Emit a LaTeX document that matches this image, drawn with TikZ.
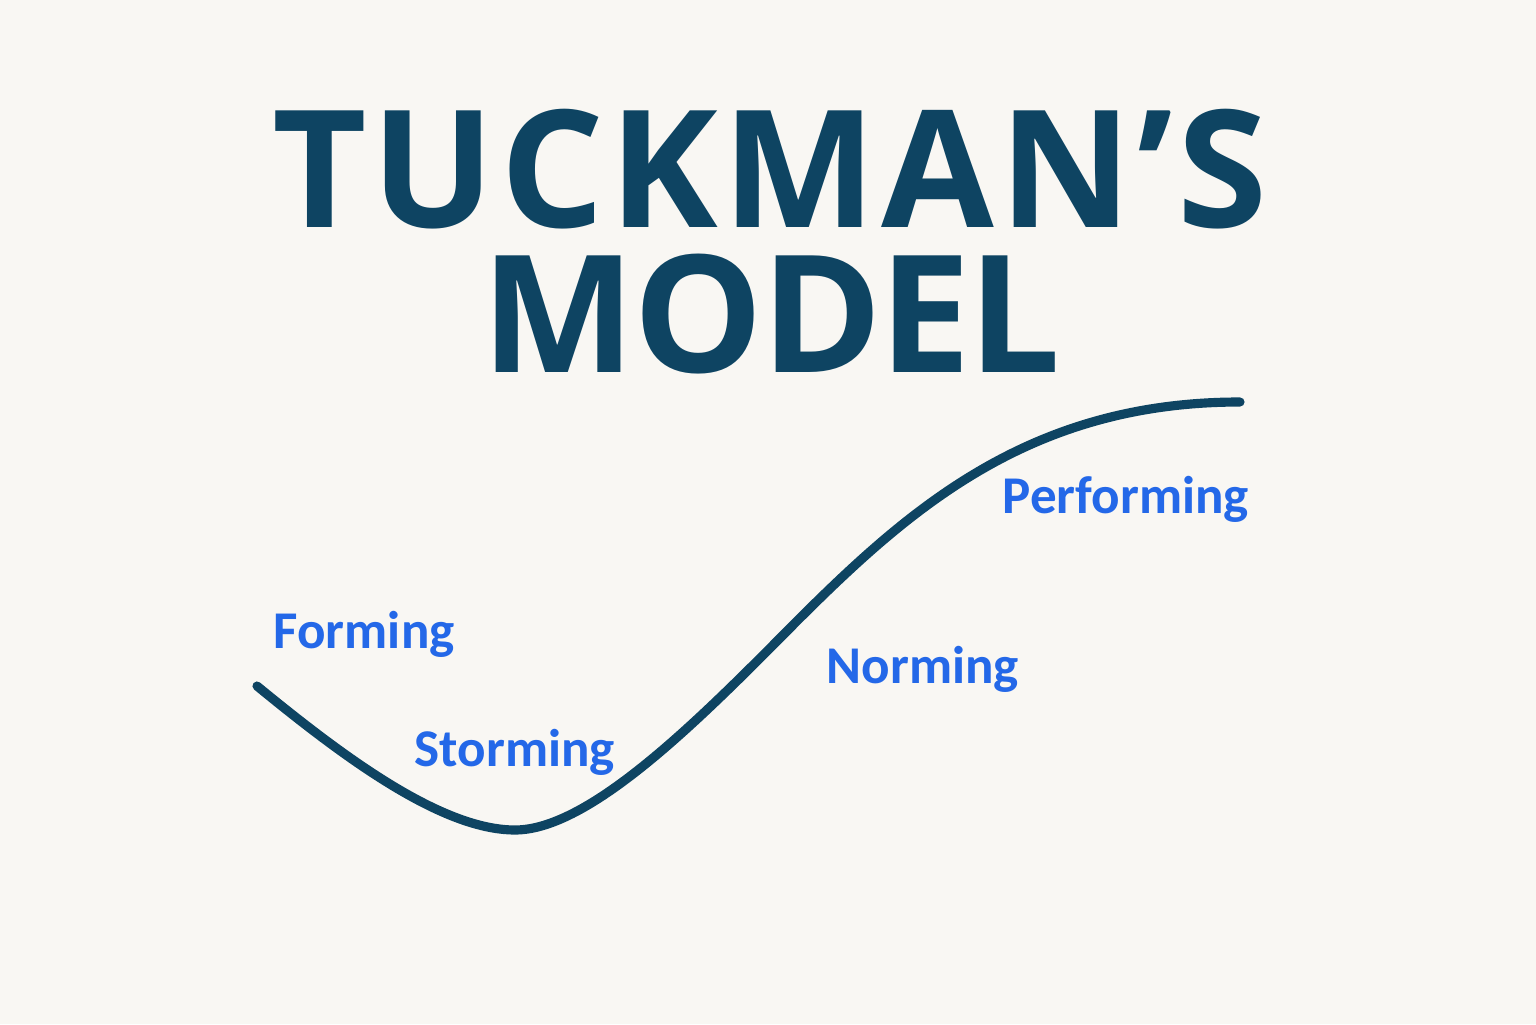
\documentclass[tikz,border=0pt]{standalone}
\usepackage{fontspec}
\setmainfont{Carlito}
\newfontfamily\titlefont[LetterSpace=3]{Open Sans}
\newfontfamily\modelfont[LetterSpace=-1.5]{Open Sans}
\usetikzlibrary{positioning}
\definecolor{navy}{HTML}{0E4462}
\definecolor{stageblue}{HTML}{2468E8}
\definecolor{paper}{HTML}{F9F7F3}

\begin{document}
\begin{tikzpicture}[
  title/.style={font=\titlefont\bfseries\fontsize{46.5}{50}\selectfont,text=navy,
    inner sep=0pt,anchor=base},
  stage/.style={font=\bfseries\fontsize{15.1}{17}\selectfont,text=stageblue,
    inner sep=0pt,anchor=base west},
  curve/.style={draw=navy,line width=2.6pt,line cap=round}
]
\fill[paper] (0,0) rectangle (15.36,10.24);
\useasboundingbox (0,0) rectangle (15.36,10.24);
% title
\node[title] (tuck) at (7.70,7.96) {TUCKMAN’S};
\node[title,font=\modelfont\bfseries\fontsize{46.5}{50}\selectfont]
  (model) at (7.715,6.52) {MODEL};
% stages
\node[stage] (forming) at (2.73,3.76) {Forming};
\node[stage] (storming) at (4.14,2.58) {Storming};
\node[stage] (norming) at (8.26,3.41) {Norming};
\node[stage] (performing) at (10.02,5.11) {Performing};
% development curve
\coordinate (start) at (2.57,3.38);
\coordinate (low) at (5.15,1.94);
\coordinate (mid) at (7.95,4.01);
\coordinate (top) at (12.40,6.22);
\draw[curve] (start) .. controls (3.4,2.7) and (4.4,1.94) .. (low)
  .. controls (5.9,1.94) and (7.0,3.05) .. (mid)
  .. controls (9.1,5.16) and (10.3,6.22) .. (top);
\end{tikzpicture}
\end{document}
